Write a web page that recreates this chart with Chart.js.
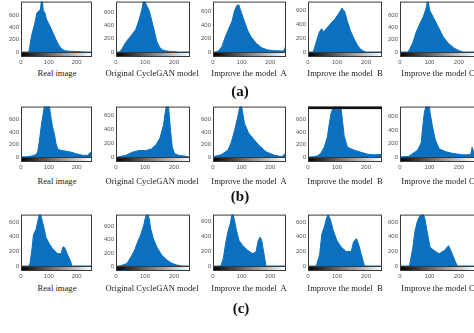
<!DOCTYPE html>
<html>
<head>
<meta charset="utf-8">
<script src="https://cdn.jsdelivr.net/npm/chart.js@4.4.1/dist/chart.umd.min.js"></script>
<style>
body { margin: 0; width: 474px; height: 333px; overflow: hidden; background: #fff; position: relative; }
canvas { position: absolute; }
.cap { position: absolute; font-family: "Liberation Serif", serif; font-size: 8.6px; line-height: 10px; color: #222; white-space: pre; transform: translateX(-50%); }
.lbl { position: absolute; font-family: "Liberation Serif", serif; font-weight: bold; font-size: 15px; color: #111; transform: translate(-50%, -50%); }
</style>
</head>
<body>
<script>
// grey level ticks and count ticks
const levelTicks = [0, 100, 200];
const countTicks = [0, 200, 400, 600];

const panelNames = ['Real image', 'Original CycleGAN model', 'Improve the model  A', 'Improve the model  B', 'Improve the model C'];
const rowLabels = ['(a)', '(b)', '(c)'];

// histograms, [grey level, pixel count]
const rowA_real = [[0,0],[27,0],[30,40],[37,250],[49,460],[57,640],[64,670],[70,700],[73,830],[77,830],[80,680],[86,640],[91,540],[100,460],[108,380],[118,280],[129,170],[138,95],[148,42],[160,20],[175,12],[190,10],[200,8],[215,4],[230,0],[255,0]];
const rowA_cyclegan = [[0,0],[12,0],[20,40],[30,120],[37,165],[55,265],[68,340],[80,490],[89,640],[94,760],[100,760],[106,700],[115,615],[128,390],[140,165],[151,65],[163,25],[180,12],[200,5],[215,0],[255,0]];
const rowA_modelA = [[0,0],[10,0],[20,20],[31,80],[43,223],[55,343],[67,462],[75,605],[82,680],[87,700],[91,690],[97,605],[109,462],[121,320],[133,223],[151,128],[169,65],[188,33],[212,20],[243,15],[250,40],[253,80],[255,120]];
const rowA_modelB = [[0,0],[17,0],[21,40],[27,125],[39,286],[47,334],[54,286],[63,334],[81,425],[93,473],[105,550],[113,600],[117,634],[120,610],[126,590],[135,449],[146,310],[158,195],[170,100],[181,40],[193,10],[200,0],[255,0]];
const rowA_modelC = [[0,0],[27,0],[32,40],[43,142],[55,325],[67,457],[80,588],[89,720],[93,825],[96,825],[101,680],[114,560],[128,430],[147,245],[165,140],[184,63],[202,20],[215,0],[255,0]];

const rowB_real = [[0,0],[20,5],[30,10],[42,20],[54,40],[60,80],[66,260],[72,468],[78,650],[84,810],[102,810],[108,620],[114,468],[120,365],[126,208],[132,130],[144,104],[162,94],[180,78],[198,52],[222,27],[240,27],[246,60],[250,78],[255,40]];
const rowB_cyclegan = [[0,0],[5,0],[15,8],[33,23],[57,70],[80,94],[104,94],[122,117],[140,187],[152,280],[164,467],[170,653],[173,726],[181,726],[188,373],[194,140],[202,47],[218,23],[242,10],[252,0],[255,0]];
const rowB_modelA = [[0,0],[5,10],[28,35],[52,110],[64,236],[76,438],[86,638],[94,810],[100,810],[110,538],[124,387],[142,287],[161,186],[185,85],[210,35],[234,10],[245,15],[252,60],[255,40]];
const rowB_modelB = [[0,0],[20,5],[33,20],[44,60],[56,157],[67,328],[73,525],[79,695],[85,770],[90,810],[95,790],[100,740],[104,790],[108,810],[113,810],[119,575],[125,328],[136,157],[160,108],[183,75],[206,45],[229,35],[250,40],[255,60]];
const rowB_modelC = [[0,0],[30,10],[44,54],[60,100],[72,213],[77,440],[83,666],[88,750],[100,750],[102,666],[111,440],[120,258],[133,122],[156,77],[179,54],[213,32],[236,35],[242,60],[245,145],[250,80],[255,40]];

const rowC_real = [[0,0],[28,0],[32,30],[38,189],[45,431],[54,497],[60,607],[66,700],[70,700],[72,677],[81,545],[90,387],[102,299],[114,233],[132,167],[144,167],[150,255],[154,260],[159,233],[168,145],[177,79],[183,0],[255,0]];
const rowC_cyclegan = [[0,0],[9,0],[20,10],[38,40],[55,164],[66,263],[74,362],[84,462],[95,611],[101,735],[106,785],[110,785],[114,735],[120,561],[129,412],[141,288],[158,164],[176,89],[193,40],[210,15],[227,0],[255,0]];
const rowC_modelA = [[0,0],[26,0],[29,20],[36,101],[45,321],[53,475],[60,563],[66,690],[70,690],[74,630],[82,475],[91,343],[103,277],[121,211],[138,167],[150,189],[158,343],[165,387],[170,343],[173,277],[179,145],[185,0],[255,0]];
const rowC_modelB = [[0,0],[27,0],[30,20],[40,154],[48,440],[56,528],[63,638],[69,700],[72,700],[77,638],[87,484],[99,352],[113,264],[131,198],[149,198],[157,330],[167,374],[175,286],[184,154],[193,22],[197,0],[255,0]];
const rowC_modelC = [[0,0],[30,0],[33,20],[43,233],[51,475],[59,607],[66,673],[75,700],[80,700],[84,655],[93,453],[102,255],[116,211],[133,167],[151,211],[165,277],[175,189],[186,79],[195,0],[255,0]];

// top of the count axis for each panel
const rowA_max = [825, 760, 745, 725, 825];
const rowB_max = [807, 726, 810, 810, 750];
const rowC_max = [700, 785, 690, 700, 700];

const histograms = [
    [rowA_real, rowA_cyclegan, rowA_modelA, rowA_modelB, rowA_modelC],
    [rowB_real, rowB_cyclegan, rowB_modelA, rowB_modelB, rowB_modelC],
    [rowC_real, rowC_cyclegan, rowC_modelA, rowC_modelB, rowC_modelC]
];
const maxima = [rowA_max, rowB_max, rowC_max];

// layout
var rowTop = [0, 105, 213];
var rowZero = [52, 157, 266];
var colLeft = [21, 116, 213, 308, 400];
var colWidth = [71, 74, 73, 74, 75];
var capCenter = [57, 152, 249, 345, 438];
var capTop = [68, 176, 283];
var lblPos = [[240, 91], [240, 196], [241, 308]];
var BLUE = '#0a70bf';

var histFrame = {
    id: 'histFrame',
    afterDatasetsDraw(chart, args, opts) {
        var ctx = chart.ctx;
        var a = chart.chartArea;
        ctx.save();
        var g = ctx.createLinearGradient(a.left, 0, a.right, 0);
        g.addColorStop(0, '#000');
        g.addColorStop(1, '#fff');
        ctx.fillStyle = g;
        ctx.fillRect(a.left, a.bottom, a.right - a.left, 4.5);
        ctx.strokeStyle = '#3a3a3a';
        ctx.lineWidth = 1;
        ctx.strokeRect(a.left + 0.5, a.top + 0.5, a.right - a.left - 1, a.bottom - a.top + 4);
        ctx.beginPath();
        ctx.moveTo(a.left, a.bottom + 0.5);
        ctx.lineTo(a.right, a.bottom + 0.5);
        ctx.stroke();
        if (opts.thickTop) {
            ctx.fillStyle = '#111';
            ctx.fillRect(a.left, a.top, a.right - a.left, 2.5);
        }
        ctx.restore();
    }
};

function drawPanel(r, c) {
    var canvas = document.createElement('canvas');
    var w = colWidth[c] + 22 + 3;
    var h = rowZero[r] - rowTop[r] + 4 + 16;
    canvas.width = w;
    canvas.height = h;
    canvas.style.left = (colLeft[c] - 22) + 'px';
    canvas.style.top = (rowTop[r] - 4) + 'px';
    document.body.appendChild(canvas);

    new Chart(canvas, {
        type: 'line',
        data: {
            datasets: [{
                data: histograms[r][c],
                fill: 'origin',
                backgroundColor: BLUE,
                borderColor: BLUE,
                borderWidth: 1,
                pointRadius: 0,
                tension: 0
            }]
        },
        plugins: [histFrame],
        options: {
            responsive: false,
            animation: false,
            devicePixelRatio: 1,
            layout: {padding: {top: 4, right: 3, left: 0, bottom: 0}},
            plugins: {
                legend: {display: false},
                tooltip: {enabled: false},
                histFrame: {thickTop: r === 1 && c === 3}
            },
            scales: {
                x: {
                    type: 'linear', min: 0, max: 255,
                    grid: {display: false, drawTicks: false},
                    border: {display: false},
                    afterBuildTicks: s => { s.ticks = levelTicks.map(v => ({value: v})); },
                    afterFit: s => { s.height = 16; },
                    ticks: {padding: 7, maxRotation: 0, autoSkip: false, color: '#555', font: {family: 'Liberation Sans', size: 6}}
                },
                y: {
                    min: 0, max: maxima[r][c],
                    grid: {display: false, drawTicks: false},
                    border: {display: false},
                    afterBuildTicks: s => { s.ticks = countTicks.map(v => ({value: v})); },
                    afterFit: s => { s.width = 22; },
                    ticks: {padding: 2, color: '#555', font: {family: 'Liberation Sans', size: 6}}
                }
            }
        }
    });

    var cap = document.createElement('div');
    cap.className = 'cap';
    cap.textContent = panelNames[c];
    cap.style.left = capCenter[c] + 'px';
    cap.style.top = capTop[r] + 'px';
    document.body.appendChild(cap);
}

for (var r = 0; r < 3; r++) {
    for (var c = 0; c < 5; c++) {
        drawPanel(r, c);
    }
    var lbl = document.createElement('div');
    lbl.className = 'lbl';
    lbl.textContent = rowLabels[r];
    lbl.style.left = lblPos[r][0] + 'px';
    lbl.style.top = lblPos[r][1] + 'px';
    document.body.appendChild(lbl);
}
</script>
</body>
</html>
